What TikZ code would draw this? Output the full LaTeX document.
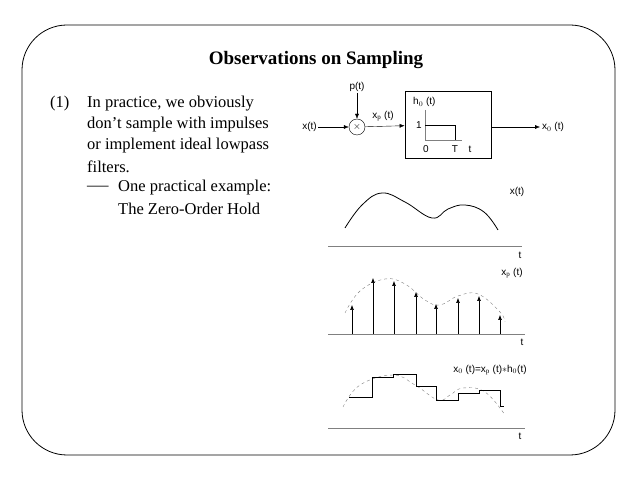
\documentclass[tikz,border=0pt]{standalone}
\usepackage{fontspec}
\setmainfont{Liberation Serif}
\newfontfamily\dsf{Liberation Sans}
\usetikzlibrary{arrows.meta}
\begin{document}
\begin{tikzpicture}[x=1pt,y=-1pt,
  lbl/.style={font=\dsf\fontsize{10}{11}\selectfont,inner sep=1pt},
  body/.style={font=\fontsize{16.5}{21}\selectfont,anchor=west,inner sep=0},
  sig/.style={-{Latex[length=5pt,width=4pt]},thin},
  dcurve/.style={gray,dashed,thin},
  ax/.style={gray,thin}]
\useasboundingbox (0,0) rectangle (638,478);
\draw[line width=0.8pt,rounded corners=45] (22,25) rectangle (615,455);
\node[font=\bfseries\fontsize{19}{22}\selectfont] (title) at (316,60) {Observations on Sampling};
\node[body] (n1) at (50,104) {(1)};
\node[body] (l1) at (87,104) {In practice, we obviously};
\node[body] (l2) at (87,125) {don’t sample with impulses};
\node[body] (l3) at (87,146) {or implement ideal lowpass};
\node[body] (l4) at (87,167) {filters.};
\node[body] (d) at (87,188) {\scalebox{1.3}[1]{—}};
\node[body] (l5) at (118,188) {One practical example:};
\node[body] (l6) at (118,209) {The Zero-Order Hold};
% block diagram
\node[lbl,anchor=east] (xt) at (318,127) {x(t)};
\node[draw,circle,minimum size=16pt,inner sep=0,lbl] (mul) at (357,127) {$\times$};
\node[lbl] (pt) at (357,87) {p(t)};
\draw[sig] (pt) -- (mul);
\draw[sig] (xt) -- (mul);
\node[draw,thick,minimum width=86pt,minimum height=67pt,inner sep=0] (box) at (448,124.5) {};
\draw[sig] (mul) -- (box);
\node[lbl] (xpt) at (383,116) {x$_\mathrm{p}$ (t)};
\coordinate (outend) at (540,127);
\draw[sig] (box.east |- outend) -- (outend);
\node[lbl,anchor=west] (x0t) at (541,127) {x$_0$ (t)};
\node[lbl,anchor=west] (h0) at (412,102) {h$_0$ (t)};
\draw[ax] (425,110) -- (425,140) -- (462,140);
\draw (425,125) -- (455,125) -- (455,140);
\node[lbl] (one) at (419,125) {1};
\node[lbl] (zero) at (426,149) {0};
\node[lbl] (T) at (455,149) {T};
\node[lbl] (tt) at (470,149) {t};
% plot 1
\node[lbl] (xlab) at (517,192) {x(t)};
\draw[thick] plot[smooth,tension=0.7] coordinates {(345,228) (362,205) (382,193) (405,202) (432,218) (448,209) (465,205) (484,212) (498,230)};
\draw[ax] (328,246) -- (522,246);
\node[lbl] (t1) at (520,255) {t};
% plot 2
\node[lbl] (xplab) at (512,273) {x$_\mathrm{p}$ (t)};
\draw[dcurve] plot[smooth,tension=0.7] coordinates {(345,313) (360,291) (385,279) (405,284) (425,300) (440,305) (458,296) (478,294) (500,312) (505,322)};
\draw[ax] (328,334) -- (525,334);
\foreach \xx/\yy in {352/305,373/278,394/281,416/292,436/304,458/298,479/296,500/315}
  \draw[sig,semithick] (\xx,334) -- (\xx,\yy);
\node[lbl] (t2) at (522,342) {t};
% plot 3
\node[lbl] (x0lab) at (490,370) {x$_0$ (t)=x$_\mathrm{p}$ (t)$*$h$_0$(t)};
\draw[dcurve] plot[smooth,tension=0.7] coordinates {(343,407) (360,385) (393,375) (415,385) (438,400) (450,395) (463,388) (485,392) (505,415)};
\draw (349,397) -- (372,397) -- (372,377) -- (393,377) -- (393,374) -- (416,374) -- (416,386) -- (436,386) -- (436,400) -- (458,400) -- (458,393) -- (479,393) -- (479,390) -- (500,390) -- (500,406) -- (504,406);
\draw[ax] (328,428) -- (525,428);
\node[lbl] (t3) at (520,436) {t};
\end{tikzpicture}
\end{document}
